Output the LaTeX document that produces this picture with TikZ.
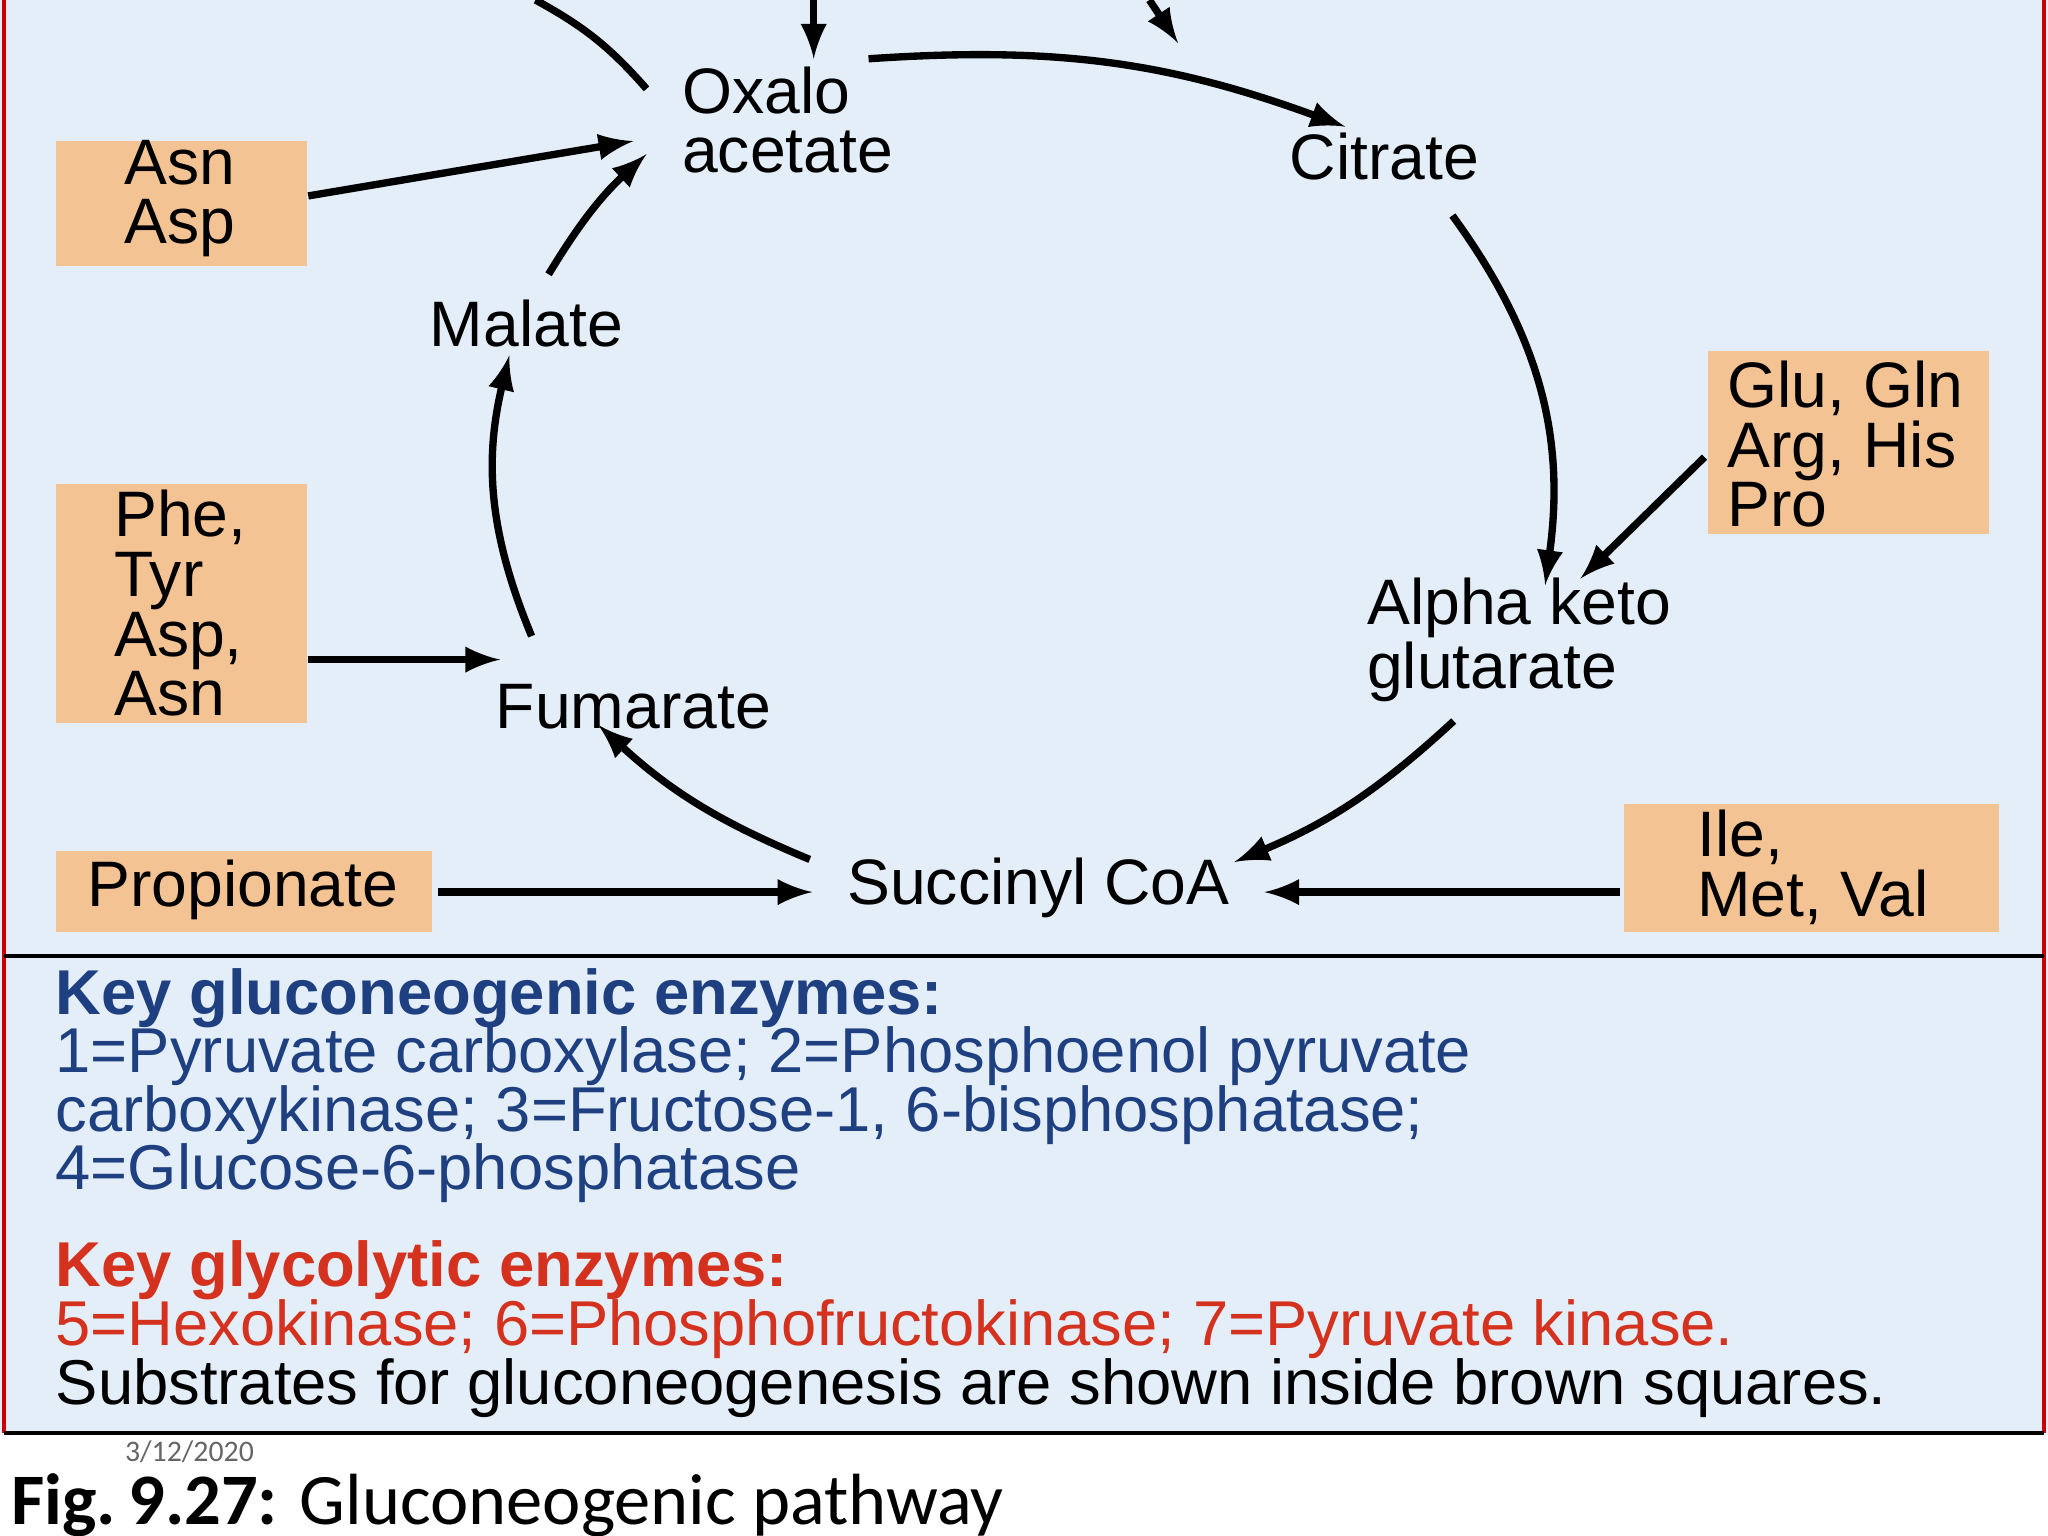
\documentclass[tikz,border=0pt]{standalone}
\usepackage{fontspec}
\setmainfont{Liberation Sans}
\newfontfamily\capfont{Carlito}
\begin{document}
\begin{tikzpicture}[x=0.1mm,y=-0.1mm,
  lbl/.style={font=\fontsize{14}{13}\selectfont, align=left, inner sep=0pt},
  box/.style={fill=boxc, anchor=north west, inner sep=0pt},
  arr/.style={-latex, line width=1.6pt, black},
  every node/.style={text=black}]
\definecolor{bgc}{HTML}{E4EEF8}
\definecolor{boxc}{HTML}{F3C393}
\definecolor{bluec}{HTML}{1E3F80}
\definecolor{redc}{HTML}{D4321E}
\useasboundingbox (0,0) rectangle (1568,1176);
\fill[bgc] (0,0) rectangle (1568,1097);
\draw[red!80!black, line width=1pt] (3,0) -- (3,1097) (1565,0) -- (1565,1097);
\draw[line width=1pt] (3,732) -- (1565,732);
\draw[line width=1pt] (3,1097) -- (1565,1097);
% boxes
\node[box, minimum width=19.2mm, minimum height=9.6mm] (b1) at (42,107) {};
\node[lbl] at (138,152) {Asn\\Asp};
\node[box, minimum width=19.2mm, minimum height=18.3mm] (b2) at (42,370) {};
\node[lbl] at (138,462) {Phe,\\Tyr\\Asp,\\Asn};
\node[box, minimum width=28.8mm, minimum height=6.2mm] (b3) at (42,651) {};
\node[lbl] at (186,681) {Propionate};
\node[box, minimum width=21.5mm, minimum height=14mm] (b4) at (1307,268) {};
\node[lbl] at (1413,340) {Glu, Gln\\Arg, His\\Pro};
\node[box, minimum width=28.7mm, minimum height=9.8mm] (b5) at (1243,615) {};
\node[lbl] at (1388,664) {Ile,\\Met, Val};
% metabolites
\node[lbl] (oaa) at (603,92) {Oxalo\\acetate};
\node[lbl] (cit) at (1060,120) {Citrate};
\node[lbl] (akg) at (1163,490) {Alpha keto\\glutarate};
\node[lbl] (suc) at (795,680) {Succinyl CoA};
\node[lbl] (fum) at (485,541) {Fumarate};
\node[lbl] (mal) at (403,248) {Malate};
% top incoming
\coordinate (t1) at (410,0); \coordinate (t2) at (623,0); \coordinate (t3) at (880,0);
\draw[line width=1.6pt] (t1) to[bend left=10] (495,68);
\draw[arr] (t2) -- (623,45);
\draw[arr] (t3) -- (902,33);
% cycle
\draw[arr] (665,45) to[bend left=12] (1030,97);
\draw[arr] (1112,165) to[bend left=22] (1183,448);
\draw[arr] (1113,552) to[bend left=10] (945,660);
\draw[arr] (620,658) to[bend left=10] (458,555);
\draw[arr] (407,487) to[bend left=18] (390,272);
\draw[arr] (420,210) to[bend left=8] (495,118);
% substrates
\draw[arr] (236,150) -- (485,108);
\draw[arr] (236,505) -- (383,505);
\draw[arr] (335,683) -- (622,683);
\draw[arr] (1240,683) -- (968,683);
\draw[arr] (1305,350) -- (1210,443);
% legend
\node[lbl, anchor=base west, text=bluec, font=\fontsize{13.8}{13}\selectfont\bfseries] at (42,777) {Key gluconeogenic enzymes:};
\node[lbl, anchor=base west, text=bluec, font=\fontsize{13.8}{13}\selectfont] at (42,821) {1=Pyruvate carboxylase; 2=Phosphoenol pyruvate};
\node[lbl, anchor=base west, text=bluec, font=\fontsize{13.8}{13}\selectfont] at (42,866) {carboxykinase; 3=Fructose-1, 6-bisphosphatase;};
\node[lbl, anchor=base west, text=bluec, font=\fontsize{13.8}{13}\selectfont] at (42,911) {4=Glucose-6-phosphatase};
\node[lbl, anchor=base west, text=redc, font=\fontsize{13.8}{13}\selectfont\bfseries] at (42,985) {Key glycolytic enzymes:};
\node[lbl, anchor=base west, text=redc, font=\fontsize{13.8}{13}\selectfont] at (42,1030) {5=Hexokinase; 6=Phosphofructokinase; 7=Pyruvate kinase.};
\node[lbl, anchor=base west, font=\fontsize{13.8}{13}\selectfont] at (42,1075) {Substrates for gluconeogenesis are shown inside brown squares.};
% caption
\node[anchor=base west, inner sep=0pt, font=\capfont\fontsize{6.5}{8}\selectfont, text=black!60] at (95,1119) {3/12/2020};
\node[anchor=base west, inner sep=0pt, font=\capfont\fontsize{15.8}{20}\selectfont] at (8,1167) {\textbf{Fig.\,9.27:} Gluconeogenic pathway};
\end{tikzpicture}
\end{document}
